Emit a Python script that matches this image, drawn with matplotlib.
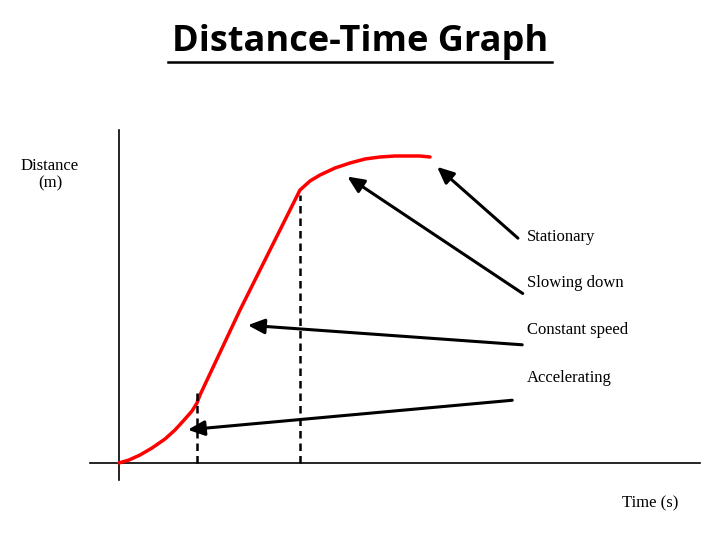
import matplotlib
matplotlib.use("Agg")
import matplotlib.pyplot as plt

# curve (time, distance) in plot units (origin at axes crossing)
curve_t = [0, 10, 21, 33, 46, 56, 66, 73, 78, 81, 121, 161, 181, 191, 201, 216, 231, 246, 261, 276, 291, 301, 311]
curve_d = [0, 3, 8, 15, 24, 33, 44, 52, 60, 68, 153, 233, 273, 282, 288, 295, 300, 304, 306, 307, 307, 307, 306]
dash_t = [78, 181]
dash_top = [73, 268]
labels = ["Stationary", "Slowing down", "Constant speed", "Accelerating"]
label_pos = [(408, 226), (408, 180), (408, 133), (408, 85)]
arrow_tail = [(401, 223), (406, 168), (406, 118), (396, 63)]
arrow_head = [(316, 298), (226, 288), (126, 138), (66, 33)]

fig = plt.figure(figsize=(7.2, 5.4), dpi=100)
fig.patch.set_facecolor("white")
ax = fig.add_axes([0, 0, 1, 1])
ax.set_xlim(-119, 601)
ax.set_ylim(-77, 463)
ax.axis("off")

serif = "Liberation Serif"
ax.plot([-29, 581], [0, 0], color="black", lw=1.2)
ax.plot([0, 0], [-17, 333], color="black", lw=1.2)
ax.plot(curve_t, curve_d, color="red", lw=2.5, solid_capstyle="round", solid_joinstyle="round")
for t, top in zip(dash_t, dash_top):
    ax.plot([t, t], [0, top], color="black", lw=1.8, ls=(0, (3, 2)))
for (tx, ty), (hx, hy) in zip(arrow_tail, arrow_head):
    ax.annotate("", xy=(hx, hy), xytext=(tx, ty),
                arrowprops=dict(arrowstyle="-|>,head_length=1.0,head_width=0.45",
                                color="black", lw=2.2))
for s, (x, y) in zip(labels, label_pos):
    ax.text(x, y, s, fontsize=12, family=serif, va="center", ha="left")
ax.text(-69, 288, "Distance\n(m)", fontsize=12, family=serif, ha="center", va="center",
        linespacing=1.1)
ax.text(503, -40, "Time (s)", fontsize=12, family=serif, ha="left", va="center")

fig.text(0.5, 0.922, "Distance-Time Graph", fontsize=26, fontweight="bold",
         family="Open Sans", ha="center", va="center")
fig.add_artist(plt.Line2D([0.234, 0.766], [0.885, 0.885], color="black", lw=1.8))

fig.savefig("out.png", dpi=100)
